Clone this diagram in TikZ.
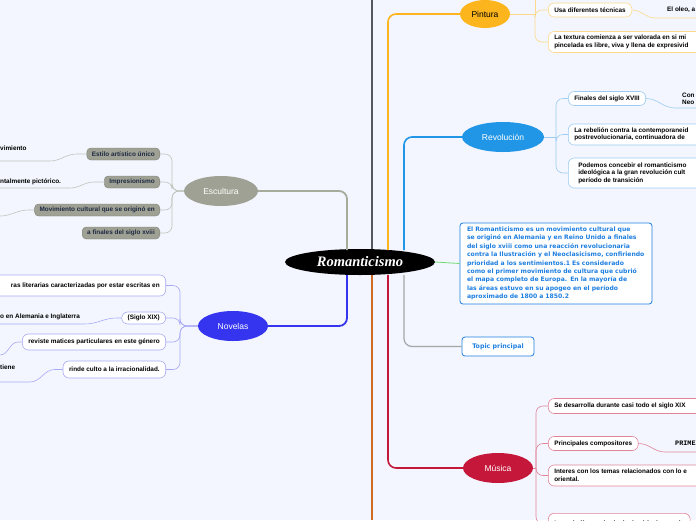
\documentclass[tikz,border=0pt]{standalone}
\usepackage{fontspec}
\usetikzlibrary{shapes.geometric}
\setmainfont{Liberation Sans}
\newfontfamily\serifbi{Liberation Serif}
\newfontfamily\verd[HyphenChar=None]{DejaVu Sans}
\newfontfamily\monof{Liberation Mono}
\definecolor{bg}{HTML}{F3F6FE}
\definecolor{navy}{HTML}{1F2A44}
\definecolor{gline}{HTML}{A7AB9C}
\definecolor{gfill}{HTML}{9EA193}
\definecolor{nblue}{HTML}{3535F0}
\definecolor{nline}{HTML}{A8AAF5}
\definecolor{pyel}{HTML}{FDB51E}
\definecolor{plight}{HTML}{FCD98C}
\definecolor{rblue}{HTML}{2196E6}
\definecolor{rlight}{HTML}{9CCCF2}
\definecolor{mred}{HTML}{C5173A}
\definecolor{mlight}{HTML}{E18499}
\definecolor{tblue}{HTML}{1E7FE0}
\definecolor{dgray}{HTML}{55585E}
\definecolor{orng}{HTML}{D06A25}
\tikzset{
 t/.style={font=\bfseries\fontsize{6.4}{7.4}\selectfont,text=black,inner sep=0pt},
 main/.style={ellipse,minimum height=30pt,inner sep=0pt,font=\fontsize{8.5}{10}\selectfont},
 gpill/.style={rounded corners=4pt,fill=gfill,draw=gfill!80!black,font=\bfseries\fontsize{6.4}{7.4}\selectfont,text=navy,minimum height=12pt,inner xsep=5pt,inner ysep=0pt},
 opill/.style={rounded corners=6pt,fill=white,draw=#1,line width=0.6pt,font=\bfseries\fontsize{6.4}{7.6}\selectfont,text=black,inner xsep=6pt,inner ysep=3pt,align=left},
 br/.style={line width=#1,rounded corners=8pt},
 sub/.style={#1,line width=0.6pt,rounded corners=7pt},
}
\begin{document}
\begin{tikzpicture}[x=1pt,y=-1pt]
\useasboundingbox (0,0) rectangle (696,520);
\fill[bg] (0,0) rectangle (696,520);
\clip (0,0) rectangle (696,520);
% trunk lines
\draw[dgray,line width=2pt] (372,0) -- (372,250);
\draw[orng,line width=2pt] (372,274) -- (372,520);
% central
\node[ellipse,fill=black,minimum width=150pt,minimum height=26pt,inner sep=0pt,text=white,font=\serifbi\bfseries\itshape\fontsize{14.5}{16}\selectfont] (c) at (360,262) {Romanticismo};
% main topics
\node[main,fill=gfill,text=white,minimum width=74pt] (esc) at (221,191) {Escultura};
\node[main,fill=nblue,text=white,minimum width=70pt] (nov) at (233,326) {Novelas};
\node[main,fill=pyel,text=black,minimum width=50pt,minimum height=28pt] (pin) at (485,14) {Pintura};
\node[main,fill=rblue,text=white,minimum width=82pt] (rev) at (503,137) {Revolución};
\node[main,fill=mred,text=white,minimum width=70pt] (mus) at (498,468) {Música};
\node[draw=tblue,line width=0.8pt,rounded corners=3pt,fill=white,text=tblue,font=\verd\bfseries\fontsize{6.1}{8.4}\selectfont,text width=178pt,align=left,inner xsep=7pt,inner ysep=4pt] (def) at (556,263.5) {El Romanticismo es un movimiento cultural que se originó en Alemania y en Reino Unido a finales del siglo xviii como una reacción revolucionaria contra la Ilustración y el Neoclasicismo, confiriendo prioridad a los sentimientos.1 Es considerado como el primer movimiento de cultura que cubrió el mapa completo de Europa. En la mayoría de las áreas estuvo en su apogeo en el período aproximado de 1800 a 1850.2};
\node[draw=tblue,line width=0.8pt,rounded corners=3pt,fill=white,text=tblue,font=\verd\bfseries\fontsize{6.3}{8}\selectfont,minimum width=72pt,minimum height=19pt] (top) at (498,346.5) {Topic principal};
% main connectors
\draw[br=1.8pt,gline] (347,250) -- (347,191) -- (esc.east);
\draw[br=1.8pt,nblue] (347,275) -- (347,326) -- (nov.east);
\draw[br=1.6pt,pyel] (388,250) -- (388,14) -- (pin.west);
\draw[br=1.6pt,rblue] (404,250) -- (404,137) -- (rev.west);
\draw[br=1.6pt,mred] (388,275) -- (388,468) -- (mus.west);
\draw[br=1.2pt,gray!70] (404,275) -- (404,346.5) -- (top.west);
\draw[green!60!gray!70,line width=0.8pt] (c.east) -- (def.west);
% Escultura children
\node[gpill,anchor=east] (e1) at (160,154) {Estilo artístico único};
\node[gpill,anchor=east] (e2) at (160,182) {Impresionismo};
\node[gpill,anchor=east] (e3) at (160,210) {Movimiento cultural que se originó en};
\node[gpill,anchor=east] (e4) at (160,233) {a finales del siglo xviii};
\foreach \n in {e1,e2,e3,e4} \draw[sub=gline!70] (esc.west) -- (172,191) |- (\n.east);
\node[t,anchor=west] (e1t) at (0,148.5) {vimiento};
\node[t,anchor=west] (e2t) at (0,181.5) {ntalmente pictórico.};
\draw[gline!70,line width=0.6pt] (e1.west) -- +(-10,0) to[out=180,in=0] (50,161) -- (0,161);
\draw[gline!70,line width=0.6pt] (e2.west) -- +(-10,0) to[out=180,in=0] (70,188) -- (0,188);
\draw[gline!70,line width=0.6pt] (e3.west) -- +(-6,0) to[out=180,in=0] (0,216);
% Novelas children
\node[opill=nline,anchor=east,minimum height=21pt] (n1) at (166,285.5) {\hspace*{20pt}ras literarias caracterizadas por estar escritas en};
\node[opill=nline,anchor=east,minimum height=12pt,inner ysep=0pt] (n2) at (166,318) {(Siglo XIX)};
\node[opill=nline,anchor=east,minimum height=16pt,inner ysep=0pt] (n3) at (166,342) {reviste matices particulares en este género};
\node[opill=nline,anchor=east,minimum height=17pt,inner ysep=0pt] (n4) at (166,369.5) {rinde culto a la irracionalidad.};
\node[t,anchor=west] (n2t) at (0,317) {o en Alemania e Inglaterra};
\node[t,anchor=west] (n4t) at (0,367) {tiene};
\draw[nline,line width=0.6pt] (n2.west) -- +(-5,0) to[out=180,in=0] (85,324) -- (0,324);
\draw[nline,line width=0.6pt] (n3.west) -- +(-4,0) to[out=180,in=0] (0,355);
\draw[nline,line width=0.6pt] (n4.west) -- +(-8,0) to[out=180,in=0] (30,382) -- (0,382);
\foreach \n in {n1,n2,n3,n4} \draw[sub=nline] (nov.west) -- (180,326) |- (\n.east);
% Pintura children
\node[opill=plight,anchor=west,minimum height=14pt,inner ysep=0pt] (p1) at (548,10) {Usa diferentes técnicas};
\node[opill=plight,anchor=west,minimum height=21pt,inner ysep=1pt] (p2) at (548,42) {La textura comienza a ser valorada en si mi\hspace*{20pt}\\pincelada es libre, viva y llena de expresivid};
\node[t,anchor=west] (p1t) at (667,10) {El oleo, a};
\draw[plight,line width=0.6pt] (p1.east) to[out=0,in=180] (655,18) -- (696,18);
\coordinate (pj) at (535,14);
\draw[plight,line width=0.6pt] (pin.east) -- (pj);
\foreach \n in {p1,p2} \draw[sub=plight] (pj) |- (\n.west);
\draw[plight,line width=0.6pt] (pj) -- (535,0);
% Revolucion children
\node[opill=rlight,anchor=west,minimum height=14pt,inner ysep=0pt] (r1) at (568,98.5) {Finales del siglo XVIII};
\node[opill=rlight,anchor=west,minimum height=21pt,inner ysep=1pt] (r2) at (568,134.5) {La rebelión contra la contemporaneid\hspace*{20pt}\\postrevolucionaria, continuadora de};
\node[opill=rlight,anchor=west,minimum height=30pt,inner ysep=1pt] (r3) at (568,173) {\hspace*{4pt}Podemos concebir el romanticismo\hspace*{20pt}\\\hspace*{4pt}ideológica a la gran revolución cult\\\hspace*{4pt}período de transición};
\node[t,anchor=west,align=left] (r1t) at (682,98.5) {Con\\Neo};
\draw[rlight,line width=0.6pt] (r1.east) to[out=0,in=180] (675,108) -- (696,108);
\coordinate (rj) at (556,137);
\draw[rlight,line width=0.6pt] (rev.east) -- (rj);
\foreach \n in {r1,r2,r3} \draw[sub=rlight] (rj) |- (\n.west);
% Musica children
\node[opill=mlight,anchor=west,minimum height=15pt,inner ysep=0pt] (m1) at (548,406) {Se desarrolla durante casi todo el siglo XIX\hspace*{10pt}};
\node[opill=mlight,anchor=west,minimum height=14pt,inner ysep=0pt] (m2) at (548,443.5) {Principales compositores};
\node[opill=mlight,anchor=west,minimum height=21pt,inner ysep=1pt] (m3) at (548,475.5) {Interes con los temas relacionados con lo e\hspace*{20pt}\\oriental.};
\node[opill=mlight,anchor=north west,minimum height=21pt,inner ysep=4pt] (m4) at (548,513) {La melodía, es el principal vehículo para la};
\node[font=\monof\bfseries\fontsize{6.8}{7}\selectfont,anchor=west,inner sep=0pt] (m2t) at (675,443) {PRIME};
\draw[mlight,line width=0.6pt] (m2.east) to[out=0,in=180] (665,452) -- (696,452);
\coordinate (mj) at (536,468);
\draw[mlight,line width=0.6pt] (mus.east) -- (mj);
\foreach \n in {m1,m2,m3,m4} \draw[sub=mlight] (mj) |- (\n.west);
\end{tikzpicture}
\end{document}
